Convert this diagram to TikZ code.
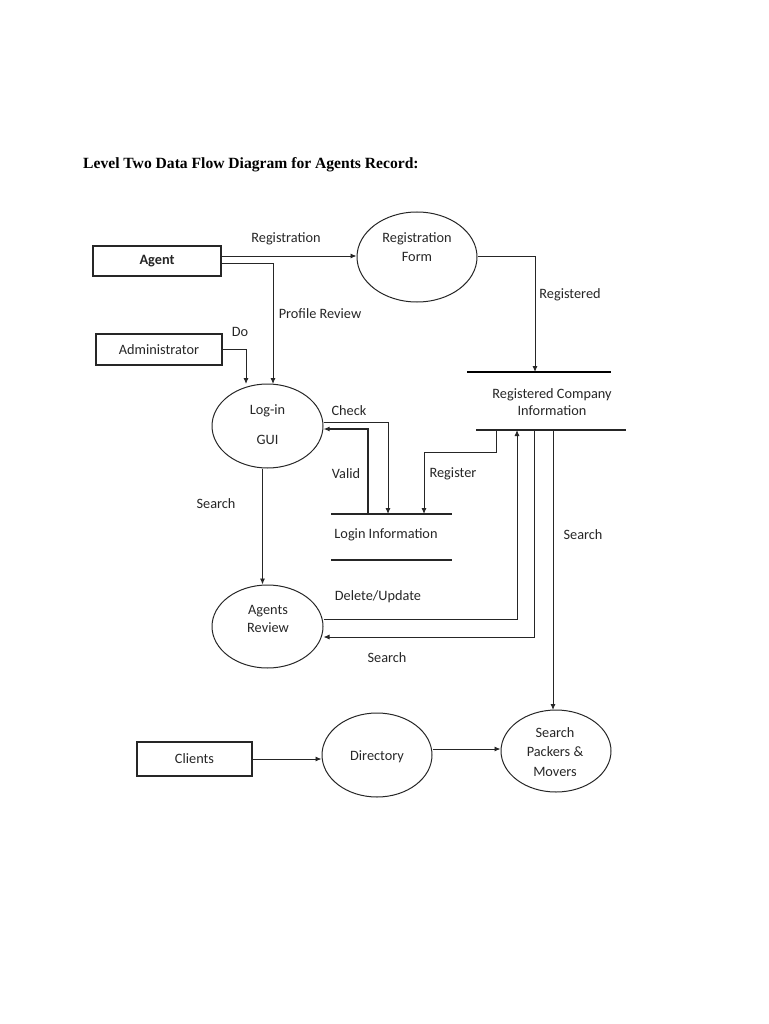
\documentclass[tikz,border=0pt]{standalone}
\usepackage{fontspec}
\setmainfont{Carlito}
\newfontfamily\titlefont{Liberation Serif}
\usetikzlibrary{shapes.geometric,arrows.meta,calc}
\begin{document}
\begin{tikzpicture}[x=1pt,y=-1pt,
  every node/.style={font=\fontsize{14.3}{17}\selectfont, text=black!85},
  ent/.style={draw=black!85, line width=1.2pt, rectangle, inner sep=0pt},
  proc/.style={draw=black!85, line width=1pt, ellipse, inner sep=0pt},
  txt/.style={align=center, inner sep=0pt},
  flow/.style={draw=black!85, line width=0.9pt, -{Latex[length=6pt,width=5pt]}},
  store/.style={draw=black!85, line width=1.2pt},
  thickstore/.style={draw=black, line width=2.4pt}]
\useasboundingbox (0,0) rectangle (768,1024);
% title
\node[anchor=west, inner sep=0pt, font=\titlefont\bfseries\fontsize{15.6}{18}\selectfont, text=black] (title) at (83,165) {Level Two Data Flow Diagram for Agents Record:};
% external entities
\node[ent, minimum width=128pt, minimum height=30pt, font=\bfseries\fontsize{14.3}{17}\selectfont] (agent) at (157,261) {Agent};
\node[ent, minimum width=126pt, minimum height=31pt] (admin) at (159,349.5) {Administrator};
\node[ent, minimum width=115pt, minimum height=34pt] (clients) at (194.5,759) {Clients};
% processes
\node[proc, minimum width=120pt, minimum height=90pt] (regform) at (417,257) {};
\node[txt, font=\fontsize{14.3}{19}\selectfont] (regformt) at (417,247) {Registration\\Form};
\node[proc, minimum width=111pt, minimum height=84pt] (login) at (267.5,426) {};
\node[txt, font=\fontsize{14.3}{30}\selectfont] (logint) at (267.5,425) {Log-in\\GUI};
\node[proc, minimum width=111pt, minimum height=83pt] (ar) at (267.5,626.5) {};
\node[txt, font=\fontsize{14.3}{18}\selectfont] (art) at (268,619) {Agents\\Review};
\node[proc, minimum width=110pt, minimum height=84pt] (dir) at (377,755) {};
\node[txt] (dirt) at (377,757) {Directory};
\node[proc, minimum width=110pt, minimum height=82pt] (spm) at (556,751) {};
\node[txt, font=\fontsize{14.3}{19.5}\selectfont] (spmt) at (555,752) {Search\\Packers \&\\Movers};
% data stores
\coordinate (rciTL) at (467,372); \coordinate (rciTR) at (611,372);
\coordinate (rciBL) at (476,430); \coordinate (rciBR) at (626,430);
\draw[thickstore] (rciTL) -- (rciTR);
\draw[store] (rciBL) -- (rciBR);
\node[txt, font=\fontsize{14.3}{17}\selectfont] (rci) at (552,402) {Registered Company\\Information};
\coordinate (liTL) at (331,514); \coordinate (liTR) at (452,514);
\coordinate (liBL) at (331,560); \coordinate (liBR) at (452,560);
\draw[store] (liTL) -- (liTR);
\draw[store] (liBL) -- (liBR);
\node[txt] (li) at (386,535) {Login Information};
% flows
\coordinate (a1) at ([yshift=5pt]agent.east);
\draw[flow] (a1) -- (a1 -| regform.west);
\node[txt] (lreg) at (286,239) {Registration};
\coordinate (a2) at ([yshift=-2pt]agent.east);
\draw[flow] (a2) -| (273,384);
\node[txt] (lpr) at (320,314) {Profile Review};
\draw[flow] (admin.east) -| (246,384);
\node[txt] (ldo) at (240,332) {Do};
\coordinate (r1) at ([yshift=1pt]regform.east);
\draw[flow] (r1) -| (rciTL -| 535,0);
\node[txt] (lrd) at (570,295) {Registered};
\coordinate (c1) at ([yshift=4pt]login.east);
\draw[flow] (c1) -| (liTL -| 388,0);
\node[txt] (lck) at (349,411) {Check};
\coordinate (v1) at ([yshift=-3pt]login.east);
\draw[flow, line width=1.3pt] (liTL -| 368,0) |- (v1);
\node[txt] (lvd) at (346,474) {Valid};
\coordinate (g1) at (rciBL -| 496,0);
\draw[flow] (g1) -- (496,452) -| (liTL -| 424,0);
\node[txt] (lrg) at (453,474) {Register};
\draw[flow] ([xshift=-5pt]login.south) -- ([xshift=-5pt]ar.north);
\node[txt] (ls1) at (216,504) {Search};
\coordinate (d1) at ([yshift=7.5pt]ar.east);
\draw[flow] (d1) -| (rciBL -| 517,0);
\node[txt] (ldu) at (378,597) {Delete/Update};
\coordinate (s1) at ([yshift=-10.5pt]ar.east);
\draw[flow] (rciBL -| 534,0) |- (s1);
\node[txt] (ls2) at (387,658) {Search};
\draw[flow] (rciBL -| 553,0) -- (553,710);
\node[txt] (ls3) at (583,535) {Search};
\draw[flow] (clients.east) -- (clients.east -| dir.west);
\coordinate (dd) at ([yshift=6pt]dir.east);
\draw[flow] (dd) -- (dd -| spm.west);
\end{tikzpicture}
\end{document}
